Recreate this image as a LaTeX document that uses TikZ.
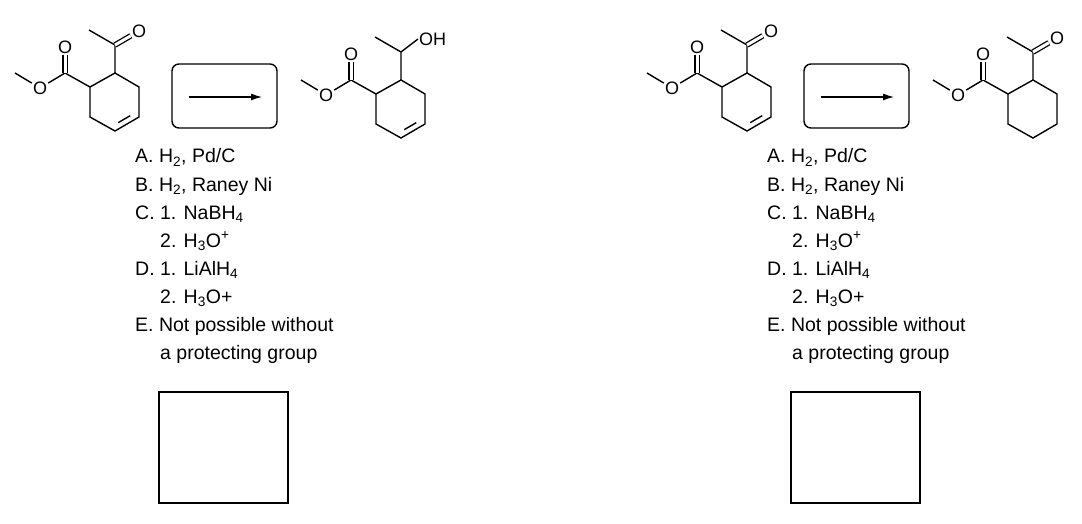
\documentclass[tikz,border=0pt]{standalone}
\usepackage{fontspec}
\setmainfont{Liberation Sans}
\usetikzlibrary{calc,arrows.meta}
\tikzset{bond/.style={line width=1.4pt},
 atom/.style={inner sep=1pt,font=\fontsize{18}{18}\selectfont},
 dbl/.style={double distance=3pt,double=white,line width=1.3pt},
 lbl/.style={anchor=base west,inner sep=0pt,font=\fontsize{19.5}{20}\selectfont},
 rbox/.style={draw,line width=1.4pt,rounded corners=7pt}}
\newcommand\molecule[5]{% prefix, dx, dy, ring double(1/0), OH(1/0)
\begin{scope}[shift={(#2,#3)}]
 \coordinate (#1c1) at (90,87); \coordinate (#1c2) at (115,73);
 \coordinate (#1c3) at (139,87); \coordinate (#1c4) at (139,117);
 \coordinate (#1c5) at (115,131); \coordinate (#1c6) at (90,117);
 \coordinate (#1ctr) at (114.5,102);
 \coordinate (#1e) at (65,73); \coordinate (#1me) at (15,73);
 \coordinate (#1ac) at (115,45); \coordinate (#1am) at (89,30);
 \node[atom] (#1eo) at (40,88) {O};
 \node[atom] (#1co) at (65,47) {O};
 \draw[bond] (#1c1)--(#1c2)--(#1c3)--(#1c4)--(#1c5)--(#1c6)--cycle;
 \draw[bond] (#1c1)--(#1e)--(#1eo)--(#1me);
 \draw[dbl] (#1e)--(#1co);
 \draw[bond] (#1c2)--(#1ac)--(#1am);
 \ifnum#5=1
  \node[atom,anchor=west] (#1ao) at (132,32) {OH};
  \draw[bond] (#1ac)--(#1ao.west);
 \else
  \node[atom] (#1ao) at (139,31) {O};
  \draw[dbl] (#1ac)--(#1ao);
 \fi
 \ifnum#4=1
  \draw[bond] ($($(#1c4)!0.18!(#1c5)$)!0.22!(#1ctr)$)--($($(#1c4)!0.82!(#1c5)$)!0.22!(#1ctr)$);
 \fi
\end{scope}}
\begin{document}
\begin{tikzpicture}[x=1pt,y=-1pt]
\useasboundingbox (0,0) rectangle (1082,524);
\foreach \p/\dx in {L/0,R/632}{
 \molecule{\p r}{\dx}{0}{1}{0}
 \draw[rbox] (172+\dx,64) rectangle (277+\dx,128);
 \coordinate (\p a1) at (189+\dx,97); \coordinate (\p a2) at (262+\dx,97);
 \draw[line width=1.3pt,-{Latex[length=11pt,width=7pt]}] (\p a1)--(\p a2);
 \node[lbl] (\p t1) at (135+\dx,163) {A. H\textsubscript{2}, Pd/C};
 \node[lbl] (\p t2) at (135+\dx,191) {B. H\textsubscript{2}, Raney Ni};
 \node[lbl] (\p t3) at (135+\dx,219) {C. 1. NaBH\textsubscript{4}};
 \node[lbl] (\p t4) at (160+\dx,247) {2. H\textsubscript{3}O\textsuperscript{+}};
 \node[lbl] (\p t5) at (135+\dx,275) {D. 1. LiAlH\textsubscript{4}};
 \node[lbl] (\p t6) at (160+\dx,303) {2. H\textsubscript{3}O+};
 \node[lbl] (\p t7) at (135+\dx,331) {E. Not possible without};
 \node[lbl] (\p t8) at (160+\dx,359) {a protecting group};
 \draw[line width=1.6pt] (159+\dx,392) rectangle (288+\dx,503);
}
\molecule{Lp}{286}{7}{1}{1}
\molecule{Rp}{918}{7}{0}{0}
\end{tikzpicture}
\end{document}
